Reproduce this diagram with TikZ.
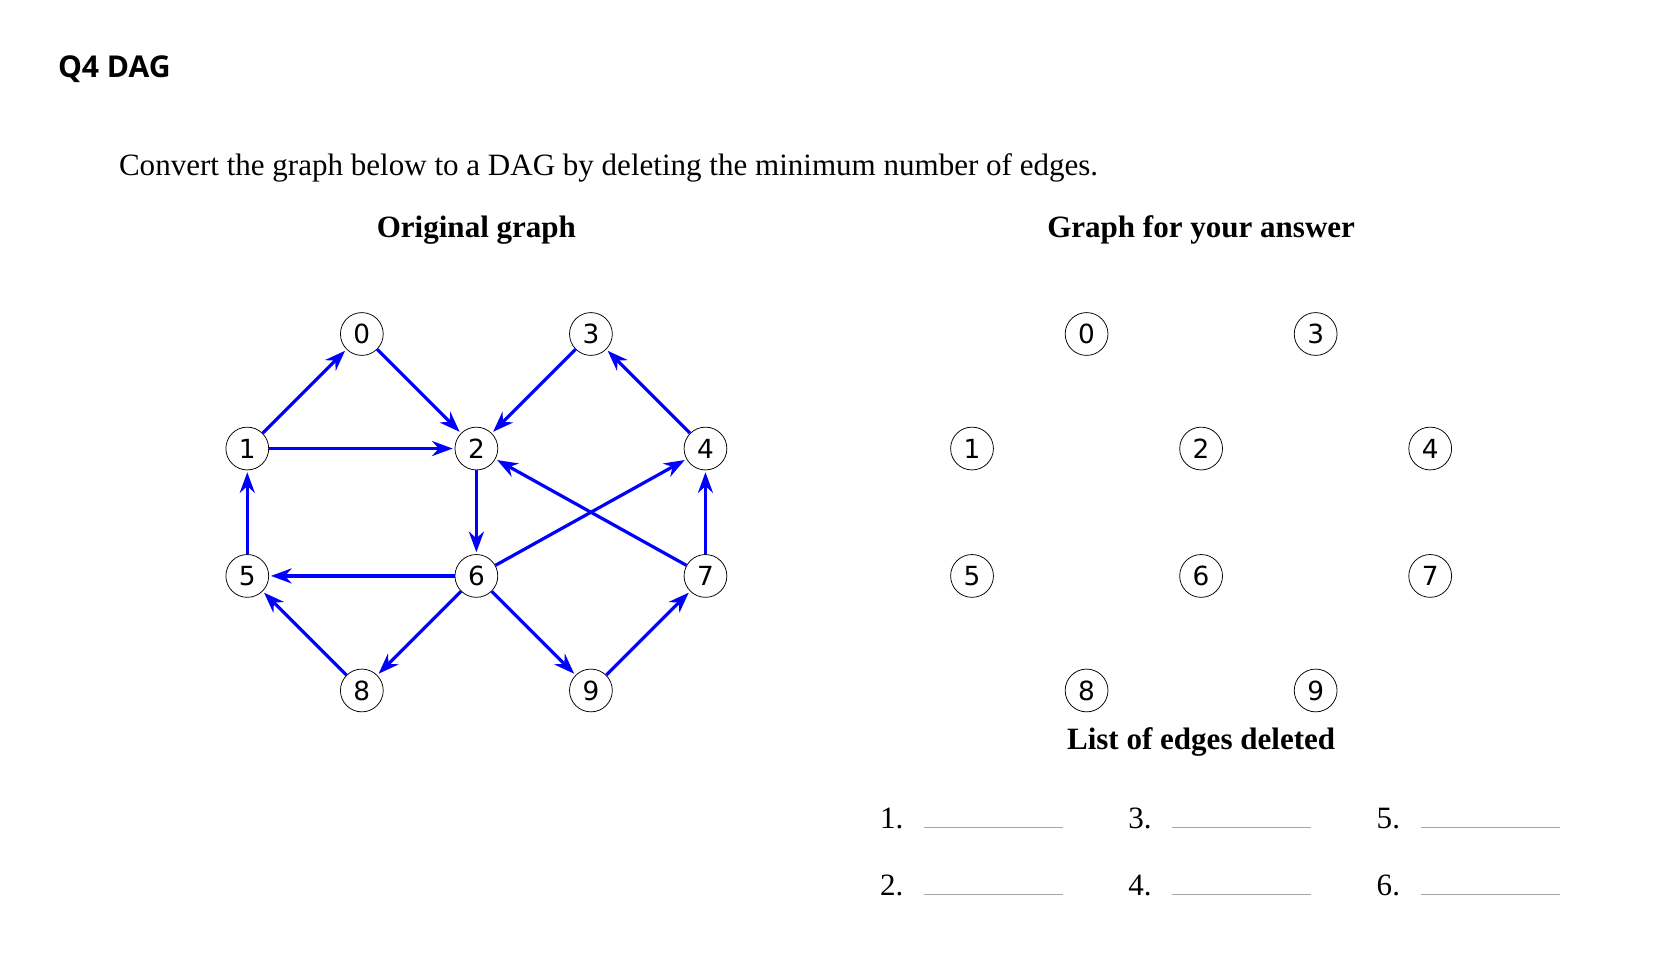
\documentclass[tikz,border=0pt]{standalone}
\usepackage{fontspec}
\setmainfont{Liberation Serif}
\newfontfamily\vsans{DejaVu Sans}
\newfontfamily\tsans{Open Sans}
\usetikzlibrary{arrows.meta}
\begin{document}
\begin{tikzpicture}[x=0.02cm,y=-0.02cm,
  vtx/.style={circle,draw,thin,minimum size=0.8cm,inner sep=0pt,font=\vsans\fontsize{14}{14}\selectfont},
  edge/.style={draw=blue,line width=1.7pt,-{Stealth[length=11pt,width=8pt]},shorten >=1pt},
  ttl/.style={font=\bfseries\fontsize{16.5}{18}\selectfont},
  itm/.style={font=\fontsize{16.5}{18}\selectfont,anchor=east},
  ln/.style={draw=gray!70,thin}]
\useasboundingbox (0,0) rectangle (1560,915);
\node[anchor=west,font=\tsans\bfseries\fontsize{16}{18}\selectfont] (q) at (48,65) {Q4 DAG};
\node[anchor=west,font=\fontsize{16.5}{18}\selectfont] (t) at (105,157) {Convert the graph below to a DAG by deleting the minimum number of edges.};
\node[ttl] (h1) at (445,215) {Original graph};
\node[ttl] (h2) at (1122,215) {Graph for your answer};
\node[ttl] (h3) at (1122,693) {List of edges deleted};
\foreach \n/\x/\y in {0/338/312,3/552/312,1/231/419,2/445/419,4/659/419,5/231/538,6/445/538,7/659/538,8/338/645,9/552/645}{
  \node[vtx] (a\n) at (\x,\y) {\n};
  \node[vtx] (b\n) at (\x+677,\y) {\n};
}
\foreach \s/\t in {1/0,0/2,1/2,3/2,4/3,2/6,7/2,6/4,7/4,6/5,5/1,8/5,6/8,6/9,9/7}
  \draw[edge] (a\s) -- (a\t);
\foreach \i/\x/\y in {1/850/765,2/850/827,3/1082/765,4/1082/827,5/1314/765,6/1314/827}{
  \node[itm] (n\i) at (\x,\y) {\i.};
  \coordinate (s\i) at (\x+13,\y+8);
  \coordinate (e\i) at (\x+143,\y+8);
  \draw[ln] (s\i) -- (e\i);
}
\end{tikzpicture}
\end{document}
